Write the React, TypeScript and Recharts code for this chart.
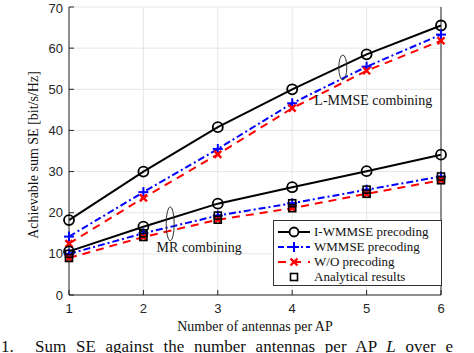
import React from 'react';
import {
  ComposedChart,
  Line,
  XAxis,
  YAxis,
  CartesianGrid,
  ReferenceDot,
} from 'recharts';

// antennas per AP
const antennas = [1, 2, 3, 4, 5, 6];
const yTicks = [0, 10, 20, 30, 40, 50, 60, 70];

// L-MMSE combining
const iwmmseLmmse = [18.2, 30.0, 40.8, 50.0, 58.5, 65.5];
const wmmseLmmse = [14.2, 25.0, 35.5, 46.6, 55.5, 63.3];
const woLmmse = [12.5, 23.6, 34.2, 45.4, 54.5, 61.8];

// MR combining
const iwmmseMr = [10.6, 16.6, 22.2, 26.2, 30.1, 34.1];
const wmmseMr = [10.0, 15.0, 19.3, 22.3, 25.6, 28.8];
const woMr = [9.0, 14.1, 18.3, 21.1, 24.6, 27.9];

// analytical results (squares) on the MR curves
const analyticWmmse = [10.0, 15.0, 19.3, 22.3, 25.6, 28.8];
const analyticWo = [9.0, 14.1, 18.3, 21.1, 24.6, 27.9];

const legendNames = ['I-WMMSE precoding', 'WMMSE precoding', 'W/O precoding', 'Analytical results'];

const data = antennas.map((L, i) => ({
  L,
  iwL: iwmmseLmmse[i],
  wL: wmmseLmmse[i],
  oL: woLmmse[i],
  iwM: iwmmseMr[i],
  wM: wmmseMr[i],
  oM: woMr[i],
  aW: analyticWmmse[i],
  aO: analyticWo[i],
}));

const tickFont = { fontFamily: 'Liberation Sans, Arial, sans-serif', fontSize: 13, fill: '#262626' };
const serif = 'Liberation Serif, Times New Roman, serif';

const CircleDot = (p: any) => (
  <circle key={p.key} cx={p.cx} cy={p.cy} r={5} fill="none" stroke="#000" strokeWidth={1.8} />
);
const PlusDot = (p: any) => (
  <g key={p.key} stroke="#0000ff" strokeWidth={2}>
    <line x1={p.cx - 5} y1={p.cy} x2={p.cx + 5} y2={p.cy} />
    <line x1={p.cx} y1={p.cy - 5} x2={p.cx} y2={p.cy + 5} />
  </g>
);
const CrossDot = (p: any) => (
  <g key={p.key} stroke="#ff0000" strokeWidth={2.4}>
    <line x1={p.cx - 3.5} y1={p.cy - 3.5} x2={p.cx + 3.5} y2={p.cy + 3.5} />
    <line x1={p.cx - 3.5} y1={p.cy + 3.5} x2={p.cx + 3.5} y2={p.cy - 3.5} />
  </g>
);
const SquareDot = (p: any) => (
  <rect key={p.key} x={p.cx - 3.5} y={p.cy - 3.5} width={7} height={7} fill="none" stroke="#000" strokeWidth={1.6} />
);

const Ellipse = (ry: number) => (p: any) => (
  <ellipse cx={p.cx} cy={p.cy} rx={4} ry={ry} fill="none" stroke="#333" strokeWidth={1} />
);
const Note = (txt: string) => (p: any) => (
  <text x={p.cx} y={p.cy} textAnchor="middle" dominantBaseline="middle" fontFamily={serif} fontSize={14} fill="#111">
    {txt}
  </text>
);

const legendIcons = [
  <g>
    <line x1={2} y1={8} x2={34} y2={8} stroke="#000" strokeWidth={2} />
    <circle cx={18} cy={8} r={4.5} fill="#fff" stroke="#000" strokeWidth={1.8} />
  </g>,
  <g>
    <line x1={2} y1={8} x2={34} y2={8} stroke="#0000ff" strokeWidth={2} strokeDasharray="6 3 2 3" />
    <line x1={13} y1={8} x2={23} y2={8} stroke="#0000ff" strokeWidth={2} />
    <line x1={18} y1={3} x2={18} y2={13} stroke="#0000ff" strokeWidth={2} />
  </g>,
  <g stroke="#ff0000" strokeWidth={2.4}>
    <line x1={2} y1={8} x2={34} y2={8} strokeDasharray="8 7" strokeWidth={2} />
    <line x1={14.5} y1={4.5} x2={21.5} y2={11.5} />
    <line x1={14.5} y1={11.5} x2={21.5} y2={4.5} />
  </g>,
  <rect x={14.5} y={4.5} width={7} height={7} fill="none" stroke="#000" strokeWidth={1.6} />,
];

export default function App() {
  return (
    <div style={{ position: 'absolute', left: 0, top: 0, width: 474, height: 353, background: '#fff', overflow: 'hidden' }}>
      <ComposedChart width={474} height={353} data={data} margin={{ top: 7, right: 0, left: 0, bottom: 28 }}>
        <CartesianGrid stroke="#e6e6e6" strokeWidth={1} />
        <XAxis
          dataKey="L"
          type="number"
          domain={[1, 6]}
          ticks={antennas}
          height={30}
          stroke="#262626"
          tickSize={-5}
          tickMargin={14}
          tick={tickFont}
          label={{ value: 'Number of antennas per AP', position: 'insideBottom', offset: -6, style: { fontFamily: serif, fontSize: 14, fill: '#111' } }}
        />
        <XAxis
          xAxisId="top"
          orientation="top"
          dataKey="L"
          type="number"
          domain={[1, 6]}
          ticks={antennas}
          height={0}
          stroke="#262626"
          tickSize={-5}
          tickFormatter={() => ''}
        />
        <YAxis
          domain={[0, 70]}
          ticks={yTicks}
          width={69}
          stroke="#262626"
          tickSize={-5}
          tickMargin={11}
          tick={tickFont}
          label={() => (
            <text
              x={35}
              y={155}
              transform="rotate(-90 35 155)"
              textAnchor="middle"
              dominantBaseline="middle"
              fontFamily={serif}
              fontSize={14}
              fill="#111"
            >
              Achievable sum SE [bit/s/Hz]
            </text>
          )}
        />
        <YAxis
          yAxisId="right"
          orientation="right"
          domain={[0, 70]}
          ticks={yTicks}
          width={33}
          stroke="#262626"
          tickSize={-5}
          tickFormatter={() => ''}
        />

        <Line dataKey="iwL" stroke="#000" strokeWidth={2} dot={CircleDot} isAnimationActive={false} />
        <Line dataKey="wL" stroke="#0000ff" strokeWidth={2} strokeDasharray="7 3 2 3" dot={PlusDot} isAnimationActive={false} />
        <Line dataKey="oL" stroke="#ff0000" strokeWidth={2} strokeDasharray="8 6" dot={CrossDot} isAnimationActive={false} />
        <Line dataKey="iwM" stroke="#000" strokeWidth={2} dot={CircleDot} isAnimationActive={false} />
        <Line dataKey="wM" stroke="#0000ff" strokeWidth={2} strokeDasharray="7 3 2 3" dot={PlusDot} isAnimationActive={false} />
        <Line dataKey="oM" stroke="#ff0000" strokeWidth={2} strokeDasharray="8 6" dot={CrossDot} isAnimationActive={false} />
        <Line dataKey="aW" stroke="none" dot={SquareDot} isAnimationActive={false} />
        <Line dataKey="aO" stroke="none" dot={SquareDot} isAnimationActive={false} />

        <ReferenceDot x={4.68} y={55.3} shape={Ellipse(12.5)} />
        <ReferenceDot x={2.36} y={17.3} shape={Ellipse(17)} />
        <ReferenceDot x={5.09} y={46.9} shape={Note('L-MMSE combining')} />
        <ReferenceDot x={2.75} y={11.2} shape={Note('MR combining')} />
      </ComposedChart>

      <div
        style={{
          position: 'absolute',
          left: 273,
          top: 220,
          width: 169,
          height: 66,
          border: '1px solid #333',
          background: '#fff',
          boxSizing: 'border-box',
          padding: '3px 0 0 2px',
        }}
      >
        {legendNames.map((n, i) => (
          <div key={n} style={{ display: 'flex', alignItems: 'center', height: 15 }}>
            <svg width={36} height={16} style={{ flex: 'none' }}>
              {legendIcons[i]}
            </svg>
            <span style={{ fontFamily: serif, fontSize: 13, color: '#111', marginLeft: 2, lineHeight: '15px' }}>{n}</span>
          </div>
        ))}
      </div>

      <div style={{ position: 'absolute', left: 1, top: 337, fontFamily: serif, fontSize: 17, lineHeight: '19px', color: '#111' }}>
        1.
      </div>
      <div
        style={{
          position: 'absolute',
          left: 35,
          top: 337,
          fontFamily: serif,
          fontSize: 17,
          lineHeight: '19px',
          color: '#111',
          whiteSpace: 'pre',
          wordSpacing: 5.5,
        }}
      >
        Sum SE against the number antennas per AP <i>L</i> over e
      </div>
    </div>
  );
}
